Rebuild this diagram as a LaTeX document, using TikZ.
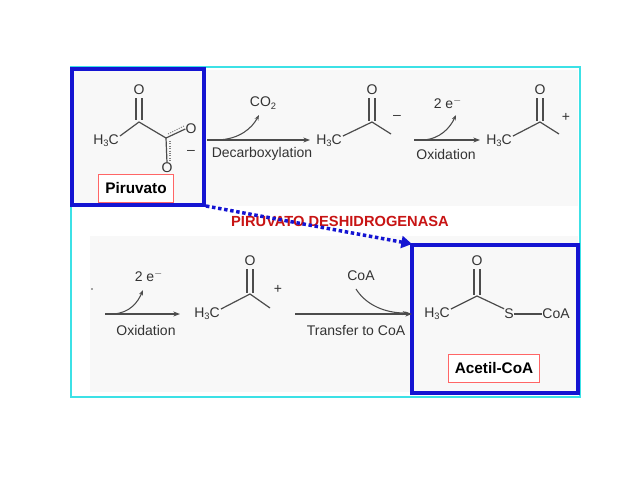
\documentclass[tikz,border=0pt]{standalone}
\usepackage{fontspec}
\setmainfont{Liberation Sans}
\usetikzlibrary{arrows.meta}
\definecolor{cy}{RGB}{60,225,230}
\definecolor{bl}{RGB}{20,20,210}
\definecolor{rd}{RGB}{200,20,20}
\definecolor{bg}{RGB}{248,248,248}
\newcommand{\sbt}[1]{\raisebox{-0.3ex}{\fontsize{7}{8}\selectfont #1}}
\tikzset{lab/.style={font=\fontsize{10.5}{12}\selectfont,text=black!80,inner sep=0pt},
 bond/.style={draw=black!70,line width=0.9pt},
 rx/.style={draw=black!70,line width=0.9pt,-{Stealth[length=5pt]}},
 curv/.style={draw=black!70,line width=0.8pt,-{Stealth[length=4pt]}},
 namebox/.style={draw=red!60,fill=white,line width=0.6pt,font=\bfseries\fontsize{11.5}{13}\selectfont,minimum height=21pt,inner xsep=5pt}}
\begin{document}
\begin{tikzpicture}[x=0.75pt,y=-0.75pt]
\useasboundingbox (0,0) rectangle (638,479);
\fill[white] (0,0) rectangle (638,479);
\fill[bg] (74,70) rectangle (578,206);
\fill[bg] (90,236) rectangle (578,392);
\draw[cy,line width=1.6pt] (71,67) rectangle (580,397);
\draw[bl,line width=2.4pt] (72,69) rectangle (204,205);
% pyruvate
\node[lab] (m1) at (106,141) {H\sbt{3}C};
\node[lab] (o1) at (139,90) {O};
\coordinate (c1) at (139,122);
\coordinate (c2) at (166,138);
\node[lab] (o2) at (191,129) {O};
\node[lab] (o3) at (167,168) {O};
\draw[bond] (m1.east)++(1,-5) -- (c1) -- (c2);
\draw[bond] (136,98) -- (136,120); \draw[bond] (142,98) -- (142,120);
\draw[bond] (c2) -- (o2.west);
\draw[black!50,densely dotted,line width=0.8pt] (168,134) -- (184,126);
\draw[bond] (c2) -- (o3.north);
\draw[black!50,densely dotted,line width=0.8pt] (170,141) -- (170,161);
\node[lab] (mn1) at (191,152) {--};
\node[namebox] (piru) at (136,188) {Piruvato};
% decarboxylation
\coordinate (a1s) at (207,140); \coordinate (a1e) at (310,140);
\draw[rx] (a1s) -- (a1e);
\node[lab] (co2) at (263,103) {CO\sbt{2}};
\draw[curv] (218,140) .. controls (240,139) and (252,128) .. (259,115);
\node[lab] (dec) at (262,154) {Decarboxylation};
% acetyl
\node[lab] (m2) at (329,141) {H\sbt{3}C};
\node[lab] (o4) at (372,90) {O};
\coordinate (c3) at (372,122);
\draw[bond] (m2.east)++(1,-5) -- (c3) -- (391,134);
\draw[bond] (369,98) -- (369,121); \draw[bond] (375,98) -- (375,121);
\node[lab] (mn2) at (397,117) {--};
% oxidation 1
\draw[rx] (414,140) -- (480,140);
\node[lab] (e1) at (448,103) {2 e$^{-}$};
\draw[curv] (423,140) .. controls (440,139) and (450,128) .. (456,115);
\node[lab] (ox1) at (446,154) {Oxidation};
\node[lab] (m3) at (499,141) {H\sbt{3}C};
\node[lab] (o5) at (540,90) {O};
\coordinate (c4) at (540,122);
\draw[bond] (m3.east)++(1,-5) -- (c4) -- (559,134);
\draw[bond] (537,98) -- (537,121); \draw[bond] (543,98) -- (543,121);
\node[lab] (pl1) at (566,117) {+};
% enzyme
\node[font=\bfseries\fontsize{11}{12}\selectfont,text=rd,inner sep=0pt] (enz) at (340,221) {PIRUVATO DESHIDROGENASA};
\draw[bl,line width=2.6pt,dotted,-{Triangle[length=8pt,width=9pt]}] (206,206) -- (412,244);
% lower
\draw[bl,line width=2.4pt] (412,245) rectangle (578,393);
\fill[black!70] (92,289) circle (0.8);
\draw[rx] (105,314) -- (180,314);
\node[lab] (e2) at (149,276) {2 e$^{-}$};
\draw[curv] (113,314) .. controls (130,313) and (138,302) .. (143,290);
\node[lab] (ox2) at (146,330) {Oxidation};
\node[lab] (m4) at (207,314) {H\sbt{3}C};
\node[lab] (o6) at (250,261) {O};
\coordinate (c5) at (250,294);
\draw[bond] (m4.east)++(1,-5) -- (c5) -- (270,308);
\draw[bond] (247,269) -- (247,293); \draw[bond] (253,269) -- (253,293);
\node[lab] (pl2) at (278,289) {+};
\draw[rx] (295,314) -- (412,314);
\node[lab] (coa1) at (361,276) {CoA};
\draw[curv] (356,289) .. controls (366,305) and (385,313) .. (408,313);
\node[lab] (tr) at (356,330) {Transfer to CoA};
\node[lab] (m5) at (437,314) {H\sbt{3}C};
\node[lab] (o7) at (477,261) {O};
\coordinate (c6) at (477,296);
\node[lab] (s) at (509,314) {S};
\node[lab] (coa2) at (556,314) {CoA};
\draw[bond] (m5.east)++(1,-5) -- (c6) -- (s.north west);
\draw[bond] (474,269) -- (474,295); \draw[bond] (480,269) -- (480,295);
\draw[bond] (s.east) -- (coa2.west);
\node[namebox] (acoa) at (494,368) {Acetil-CoA};
\end{tikzpicture}
\end{document}
